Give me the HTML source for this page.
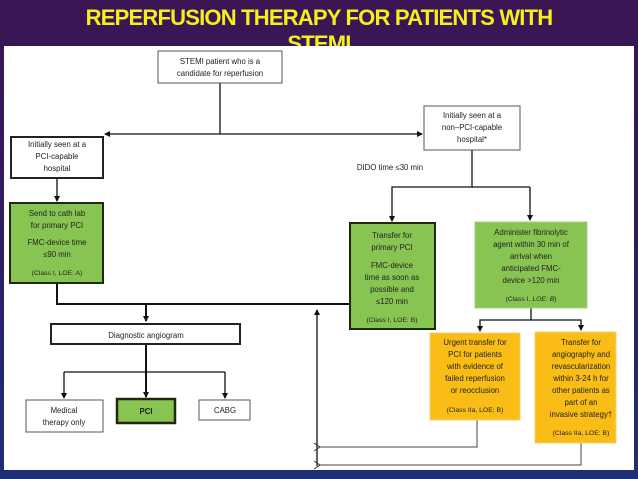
<!DOCTYPE html>
<html><head><meta charset="utf-8"><style>
html,body{margin:0;padding:0;width:638px;height:479px;overflow:hidden}
body{background:linear-gradient(180deg,#3b1553 0%,#2e1d5e 50%,#1f2f78 100%);position:relative;font-family:"Liberation Sans",sans-serif}
.t{position:absolute;left:0;width:638px;text-align:center;color:#f5f01a;font-weight:bold;font-size:22px;letter-spacing:-0.8px}
svg{position:absolute;left:0;top:0}
text{font-family:"Liberation Sans",sans-serif;font-size:7.8px;fill:#222;text-anchor:middle}
</style></head><body>
<div class="t" style="top:5px">REPERFUSION THERAPY FOR PATIENTS WITH</div>
<div class="t" style="top:31px">STEMI</div>
<svg width="638" height="479" viewBox="0 0 638 479">
<defs><marker id="a" markerWidth="6" markerHeight="6" refX="5" refY="3" orient="auto" markerUnits="userSpaceOnUse"><path d="M0,0 L6,3 L0,6 z" fill="#111"/></marker>
<marker id="o" markerWidth="8" markerHeight="8" refX="1" refY="4" orient="auto" markerUnits="userSpaceOnUse"><path d="M7,0 L1,4 L7,8" fill="none" stroke="#333"/></marker></defs>
<rect x="4" y="46" width="630" height="424" fill="#fff"/>
<g stroke="#111" fill="none" stroke-width="1.3">
<path d="M220 83 V134"/><path d="M220 134 H105" marker-end="url(#a)"/><path d="M220 134 H422" marker-end="url(#a)"/>
<path d="M57 178 V201" marker-end="url(#a)"/>
<path d="M472 150 V187 H392 V221" marker-end="url(#a)"/><path d="M530 187 V220" marker-end="url(#a)"/><path d="M472 187 H530"/>
<path d="M57 283 V304 H350" stroke-width="2"/><path d="M146 304 V321" marker-end="url(#a)" stroke-width="2"/>
<path d="M146 344 V397" stroke-width="2" marker-end="url(#a)"/>
<path d="M64 372 H225"/><path d="M64 372 V398" marker-end="url(#a)"/><path d="M225 372 V398" marker-end="url(#a)"/>
<path d="M317 466 V310" marker-end="url(#a)"/>
<path d="M531 308 V320 H480 V331" marker-end="url(#a)"/><path d="M531 320 H581 V330" marker-end="url(#a)"/>
</g>
<g stroke="#444" fill="none" stroke-width="1">
<path d="M477 420 V447 H320" marker-end="url(#o)"/><path d="M581 443 V465 H320" marker-end="url(#o)"/>
</g>
<g stroke="#555" stroke-width="1" fill="#fff">
<rect x="158" y="51" width="124" height="32"/>
<rect x="424" y="106" width="96" height="44"/>
<rect x="26" y="400" width="77" height="32"/>
<rect x="199" y="400" width="51" height="20"/>
</g>
<g stroke="#222" stroke-width="2" fill="#fff">
<rect x="11" y="137" width="92" height="41"/>
<rect x="51" y="324" width="189" height="20"/>
</g>
<g stroke="#1d2a10" stroke-width="2" fill="#88c451">
<rect x="10" y="203" width="93" height="80"/>
<rect x="350" y="223" width="85" height="106"/>
<rect x="117" y="399" width="58" height="24" stroke-width="2.5"/>
</g>
<rect x="475" y="222" width="112" height="86" fill="#88c451" stroke="#a6cf7f"/>
<rect x="430" y="333" width="90" height="87" fill="#f9bd16" stroke="#f3d27a"/>
<rect x="535" y="332" width="81" height="111" fill="#f9bd16" stroke="#f3d27a"/>
<text x="220" y="64">STEMI patient who is a</text><text x="220" y="76">candidate for reperfusion</text>
<text x="57" y="147">Initially seen at a</text><text x="57" y="159">PCI-capable</text><text x="57" y="171">hospital</text>
<text x="472" y="118">Initially seen at a</text><text x="472" y="130">non–PCI-capable</text><text x="472" y="142">hospital*</text>
<text x="390" y="170">DIDO time ≤30 min</text>
<text x="57" y="216">Send to cath lab</text><text x="57" y="228">for primary PCI</text><text x="57" y="245">FMC-device time</text><text x="57" y="257">≤90 min</text><text x="57" y="275" style="font-size:6.8px">(Class I, LOE: A)</text>
<text x="392" y="238">Transfer for</text><text x="392" y="250">primary PCI</text><text x="392" y="268">FMC-device</text><text x="392" y="280">time as soon as</text><text x="392" y="292">possible and</text><text x="392" y="304">≤120 min</text><text x="392" y="322" style="font-size:6.8px">(Class  I, LOE: B)</text>
<text x="531" y="235">Administer fibrinolytic</text><text x="531" y="247">agent within 30 min of</text><text x="531" y="259">arrival when</text><text x="531" y="271">anticipated FMC-</text><text x="531" y="283">device &gt;120 min</text><text x="531" y="301" style="font-size:6.8px">(Class I, <tspan font-style="italic">LOE: B</tspan>)</text>
<text x="146" y="338">Diagnostic angiogram</text>
<text x="64" y="413">Medical</text><text x="64" y="425">therapy only</text>
<text x="146" y="414" style="font-weight:bold">PCI</text>
<text x="225" y="413">CABG</text>
<text x="475" y="345">Urgent transfer for</text><text x="475" y="357">PCI for patients</text><text x="475" y="369">with evidence of</text><text x="475" y="381">failed reperfusion</text><text x="475" y="393">or reocclusion</text><text x="475" y="412" style="font-size:6.8px">(Class IIa, LOE: B)</text>
<text x="581" y="345">Transfer for</text><text x="581" y="357">angiography  and</text><text x="581" y="369">revascularization</text><text x="581" y="381">within 3-24 h for</text><text x="581" y="393">other patients as</text><text x="581" y="405">part of an</text><text x="581" y="417">invasive strategy†</text><text x="581" y="435" style="font-size:6.8px">(Class IIa, LOE: B)</text>
</svg>
</body></html>
